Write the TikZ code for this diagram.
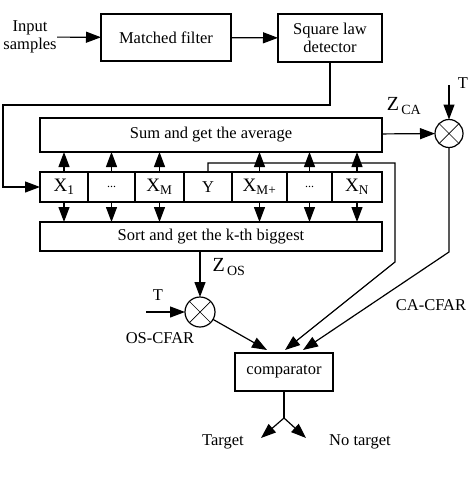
\documentclass[tikz,border=0pt]{standalone}
\usepackage{fontspec}
\setmainfont{Liberation Serif}
\usetikzlibrary{arrows.meta, positioning, calc}

\begin{document}
\begin{tikzpicture}[x=1pt, y=-1pt, line width=1.2pt,
  font=\fontsize{16.5}{18}\selectfont,
  blk/.style={rectangle, draw, inner sep=0pt, outer sep=0pt, align=center},
  cell/.style={blk, minimum height=30, font=\fontsize{19}{20}\selectfont},
  mul/.style={circle, draw, inner sep=0pt, outer sep=0pt, minimum size=28},
  lbl/.style={inner sep=0pt, align=center},
  zlbl/.style={lbl, font=\fontsize{20}{22}\selectfont},
  conn/.style={-{Triangle[length=15pt, width=11pt]}}
]
\useasboundingbox (0,0) rectangle (474,477);

\node[lbl] (input) at (30,37) {Input\\samples};
\node[blk, minimum width=130, minimum height=47] (mf)  at (166,37.5) {Matched filter};
\node[blk, minimum width=104, minimum height=48] (sld) at (330,38)   {Square law\\detector};

\node[blk, minimum width=342, minimum height=34] (sum) at (211,135) {Sum and get the average};

\node[cell, minimum width=48] (c1) at (64,187)    {X\textsubscript{1}};
\node[cell, minimum width=47] (c2) at (111.5,187) {\fontsize{12}{14}\selectfont...};
\node[cell, minimum width=49] (c3) at (159.5,187) {X\textsubscript{M}};
\node[cell, minimum width=48] (c4) at (208,187)   {\fontsize{16.5}{18}\selectfont Y};
\node[cell, minimum width=55] (c5) at (259.5,187) {X\textsubscript{M+}};
\node[cell, minimum width=45] (c6) at (309.5,187) {\fontsize{12}{14}\selectfont...};
\node[cell, minimum width=50] (c7) at (357,187)   {X\textsubscript{N}};

\node[blk, minimum width=342, minimum height=29] (sort) at (211,236.5) {Sort and get the k-th biggest};

\node[mul] (camul) at (449,133.5) {};
\node[mul, minimum size=30] (osmul) at (200,312) {};
\draw[line width=0.7pt] (camul.north west) -- (camul.south east) (camul.north east) -- (camul.south west);
\draw[line width=0.7pt] (osmul.north west) -- (osmul.south east) (osmul.north east) -- (osmul.south west);

\node[blk, minimum width=98, minimum height=38] (comp) at (284,372) {comparator};

% labels
\node[zlbl] (zca)   at (404,106) {Z\textsubscript{\,CA}};
\node[lbl] (tca)    at (463,83)  {T};
\node[zlbl] (zos)   at (229,267) {Z\textsubscript{\,OS}};
\node[lbl] (tos)    at (158,295) {T};
\node[lbl] (oscfar) at (160,338) {OS-CFAR};
\node[lbl] (cacfar) at (431,305) {CA-CFAR};
\node[lbl] (tgt)    at (223,442) {Target};
\node[lbl] (notgt)  at (360,442) {No target};

\coordinate (tcastart) at (449,85);
\coordinate (tosstart) at (146,312);
\coordinate (split)    at (284,418);
\coordinate (tgtend)   at (261,438);
\coordinate (notgtend) at (306,438);

% signal chain
\draw[conn] (input) -- (mf);
\draw[conn] (mf) -- (sld);
\draw[conn] (sld.south) |- (3,105) |- (c1.west);

% cells to sum / sort
\draw[conn] (c1.north) -- (c1.north |- sum.south);
\draw[conn] (c2.north) -- (c2.north |- sum.south);
\draw[conn] (c3.north) -- (c3.north |- sum.south);
\draw[conn] (c5.north) -- (c5.north |- sum.south);
\draw[conn] (c6.north) -- (c6.north |- sum.south);
\draw[conn] (c7.north) -- (c7.north |- sum.south);
\draw[conn] (c1.south) -- (c1.south |- sort.north);
\draw[conn] (c2.south) -- (c2.south |- sort.north);
\draw[conn] (c3.south) -- (c3.south |- sort.north);
\draw[conn] (c5.south) -- (c5.south |- sort.north);
\draw[conn] (c6.south) -- (c6.south |- sort.north);
\draw[conn] (c7.south) -- (c7.south |- sort.north);

% CA branch
\draw[conn] (sum) -- (camul);
\draw[conn] (tcastart) -- (camul);
\draw[conn] (camul) -- (449,252) -- ($(comp.north)+(19,-3)$);

% cell under test
\draw[conn] (c4.north) |- (395,163) -- (395,262) -- ($(comp.north)+(1,-3)$);

% OS branch
\draw[conn] (sort.south -| osmul) -- (osmul);
\draw[conn] (tosstart) -- (osmul);
\draw[conn] (osmul) -- ($(comp.north)+(-17,-3)$);

% decision
\draw (comp) -- (split);
\draw[conn] (split) -- (tgtend);
\draw[conn] (split) -- (notgtend);
\end{tikzpicture}
\end{document}
